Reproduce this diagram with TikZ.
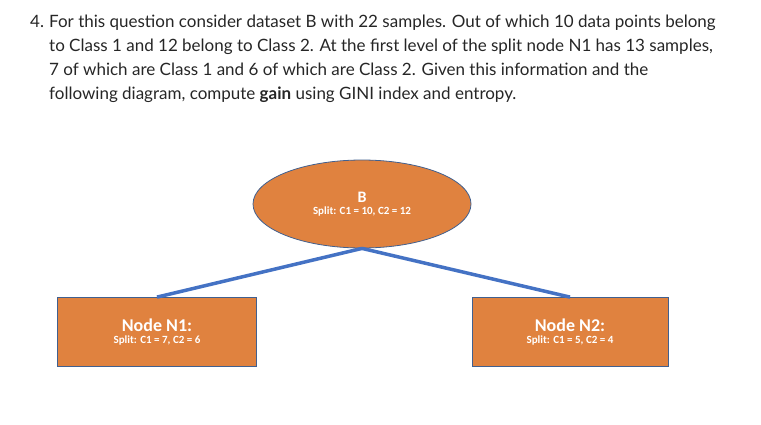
\documentclass[tikz,border=0pt]{standalone}
\usepackage{fontspec}
\usetikzlibrary{shapes.geometric}
\setmainfont{Lato}
\newfontfamily\boxfont{Carlito}
\definecolor{org}{HTML}{E0823F}
\definecolor{bl}{HTML}{4472C4}
\definecolor{bd}{HTML}{41608F}
\begin{document}
\begin{tikzpicture}[x=1pt,y=-1pt,
  txt/.style={anchor=base west,inner sep=0pt,font=\fontsize{17}{19}\selectfont,text=black!85},
  box/.style={draw=bd,line width=0.8pt,fill=org,text=white,font=\boxfont\bfseries,align=center},
  con/.style={draw=bl,line width=3.5pt}]
\useasboundingbox (0,0) rectangle (761,424);
\node[txt] (n) at (30,27) {4.};
\node[txt] (l1) at (49,27) {For this question consider dataset B with 22 samples. Out of which 10 data points belong};
\node[txt] (l2) at (49,51) {to Class 1 and 12 belong to Class 2. At the first level of the split node N1 has 13 samples,};
\node[txt] (l3) at (49,75) {7 of which are Class 1 and 6 of which are Class 2. Given this information and the};
\node[txt] (l4) at (49,99) {following diagram, compute \textbf{gain} using GINI index and entropy.};
\node[box,ellipse,minimum width=218,minimum height=88,inner sep=0pt] (B) at (362,204) {{\fontsize{16}{18}\selectfont B}\\[0pt]{\fontsize{11}{13}\selectfont Split: C1 = 10, C2 = 12}};
\node[box,rectangle,minimum width=199,minimum height=69,inner sep=0pt] (N1) at (157,332) {{\fontsize{18}{20}\selectfont Node N1:}\\[0pt]{\fontsize{11}{13}\selectfont Split: C1 = 7, C2 = 6}};
\node[box,rectangle,minimum width=196,minimum height=69,inner sep=0pt] (N2) at (570,332) {{\fontsize{18}{20}\selectfont Node N2:}\\[0pt]{\fontsize{11}{13}\selectfont Split: C1 = 5, C2 = 4}};
\draw[con] (B.south) -- (N1.north);
\draw[con] (B.south) -- (N2.north);
\end{tikzpicture}
\end{document}
